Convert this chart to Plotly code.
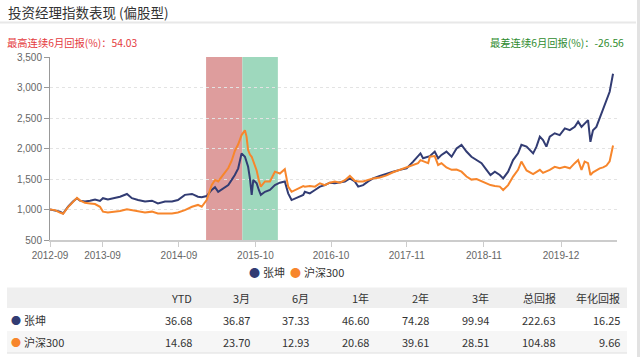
import plotly.graph_objects as go

# ---------------- data ----------------
dates = [
    "2012-09-28", "2012-10-23", "2012-11-17", "2012-12-03", "2012-12-28", "2013-01-22", "2013-02-11",
    "2013-02-26", "2013-03-23", "2013-04-18", "2013-05-13", "2013-06-07", "2013-06-22", "2013-07-17",
    "2013-08-22", "2013-09-16", "2013-10-21", "2013-11-15", "2013-12-16", "2014-01-20", "2014-02-24",
    "2014-03-26", "2014-05-01", "2014-06-05", "2014-07-05", "2014-08-09", "2014-09-14", "2014-10-14",
    "2014-11-02", "2014-11-27", "2014-12-22", "2015-01-08", "2015-01-24", "2015-02-18", "2015-03-16",
    "2015-04-02", "2015-04-18", "2015-05-05", "2015-05-22", "2015-06-08", "2015-06-16", "2015-06-24",
    "2015-07-03", "2015-07-12", "2015-07-20", "2015-08-06", "2015-08-17", "2015-08-27", "2015-09-17",
    "2015-10-12", "2015-11-06", "2015-12-01", "2015-12-26", "2016-01-12", "2016-01-29", "2016-03-02",
    "2016-03-28", "2016-04-05", "2016-04-30", "2016-05-26", "2016-06-20", "2016-07-15", "2016-08-09",
    "2016-09-03", "2016-09-29", "2016-10-24", "2016-11-18", "2016-12-13", "2016-12-30", "2017-01-24",
    "2017-02-18", "2017-03-15", "2017-04-18", "2017-05-22", "2017-06-24", "2017-07-28", "2017-08-31",
    "2017-10-03", "2017-10-28", "2017-11-09", "2017-11-22", "2017-12-18", "2017-12-26", "2018-01-20",
    "2018-02-06", "2018-02-23", "2018-03-20", "2018-04-15", "2018-05-10", "2018-06-04", "2018-06-29",
    "2018-07-24", "2018-08-19", "2018-09-13", "2018-10-08", "2018-10-28", "2018-11-19", "2018-12-14",
    "2018-12-31", "2019-01-25", "2019-02-19", "2019-03-16", "2019-04-02", "2019-04-28", "2019-05-31",
    "2019-06-17", "2019-07-04", "2019-07-20", "2019-08-06", "2019-08-23", "2019-09-17", "2019-10-12",
    "2019-11-07", "2019-12-02", "2019-12-27", "2020-01-13", "2020-01-30", "2020-02-15", "2020-03-03",
    "2020-03-15", "2020-03-28", "2020-04-14", "2020-05-01", "2020-05-18", "2020-06-04", "2020-06-20",
    "2020-07-07",
]
zhangkun = [
    1000, 980, 965, 935, 1045, 1130, 1185,
    1145, 1130, 1145, 1165, 1140, 1185, 1165,
    1185, 1210, 1255, 1185, 1155, 1130, 1145,
    1100, 1130, 1130, 1155, 1240, 1255, 1210,
    1200, 1220, 1320, 1365, 1290, 1345, 1400,
    1485, 1565, 1675, 1920, 1865, 1785, 1700,
    1510, 1240, 1485, 1430, 1320, 1240, 1290,
    1320, 1400, 1440, 1460, 1265, 1155, 1200,
    1240, 1290, 1265, 1320, 1375, 1400, 1440,
    1430, 1440, 1460, 1510, 1460, 1375, 1400,
    1460, 1510, 1550, 1590, 1620, 1650, 1675,
    1785, 1865, 1920, 1840, 1865, 1875, 1950,
    1840, 1895, 1950, 1865, 2000, 2060, 1950,
    1865, 1810, 1760, 1650, 1565, 1620, 1565,
    1510, 1620, 1810, 1920, 2060, 2030, 1920,
    2030, 2195, 2140, 2030, 2195, 2250, 2220,
    2330, 2300, 2355, 2440, 2355, 2410, 2465,
    2110, 2300, 2355, 2495, 2630, 2795, 2930,
    3226,
]
hs300 = [
    1000, 990, 950, 930, 1040, 1120, 1190,
    1150, 1110, 1100, 1090, 1045, 965, 950,
    965, 975, 1005, 990, 965, 950, 965,
    935, 935, 935, 950, 990, 1045, 1075,
    1045, 1155, 1400, 1485, 1460, 1565, 1680,
    1800, 1960, 2070, 2220, 2300, 2195, 1975,
    1900, 1865, 1800, 1640, 1480, 1375, 1460,
    1460, 1620, 1590, 1660, 1375, 1290, 1345,
    1385, 1375, 1385, 1375, 1430, 1400, 1440,
    1460, 1440, 1480, 1550, 1470, 1460, 1460,
    1490, 1510, 1525, 1560, 1610, 1650, 1690,
    1720, 1760, 1810, 1790, 1760, 1865, 1875,
    1730, 1760, 1690, 1650, 1655, 1620, 1540,
    1490, 1500, 1460, 1430, 1400, 1385, 1375,
    1320, 1400, 1540, 1650, 1785, 1640, 1580,
    1610, 1650, 1600, 1620, 1650, 1700, 1675,
    1700, 1675, 1760, 1810, 1650, 1785, 1760,
    1565, 1610, 1640, 1675, 1690, 1720, 1790,
    2049,
]
tick_dates = ["2012-09-28", "2013-06-20", "2014-07-10", "2015-07-31",
              "2016-08-15", "2017-09-01", "2018-09-25", "2019-10-19"]
tick_labels = ["2012-09", "2013-09", "2014-09", "2015-10", "2016-10", "2017-11", "2018-11", "2019-12"]
best_period = ["2014-11-24", "2015-05-26"]
worst_period = ["2015-05-26", "2015-11-21"]
best_6m = 54.03
worst_6m = -26.56
series_names = ["张坤", "沪深300"]
table_cols = ["YTD", "3月", "6月", "1年", "2年", "3年", "总回报", "年化回报"]
zk_returns = [36.68, 36.87, 37.33, 46.60, 74.28, 99.94, 222.63, 16.25]
hs_returns = [14.68, 23.70, 12.93, 20.68, 39.61, 28.51, 104.88, 9.66]

# ---------------- styling ----------------
W, H = 640, 357
ML, MR, MT, MB = 50, 23, 57, 117
PW, PH = W - ML - MR, H - MT - MB
BLUE = "#323c73"
ORANGE = "#f7862c"
FONT = "Noto Sans CJK SC, Liberation Sans, Arial, sans-serif"


def px(x):
    return (x - ML) / PW


def py(y):
    return (H - MB - y) / PH


fig = go.Figure()
fig.add_trace(go.Scatter(x=dates, y=zhangkun, mode="lines", name=series_names[0],
                         line=dict(color=BLUE, width=2), showlegend=False))
fig.add_trace(go.Scatter(x=dates, y=hs300, mode="lines", name=series_names[1],
                         line=dict(color=ORANGE, width=2), showlegend=False))

shapes = []
shapes.append(dict(type="rect", xref="x", yref="paper", x0=best_period[0], x1=best_period[1],
                   y0=0, y1=1, fillcolor="#de9d9d", line=dict(width=0), layer="below"))
shapes.append(dict(type="rect", xref="x", yref="paper", x0=worst_period[0], x1=worst_period[1],
                   y0=0, y1=1, fillcolor="#9ed8bd", line=dict(width=0), layer="below"))
# header separator
shapes.append(dict(type="line", xref="paper", yref="paper", x0=px(0), x1=px(636), y0=py(22.5), y1=py(22.5),
                   line=dict(color="#e8e8e8", width=2)))
# right border strip
shapes.append(dict(type="rect", xref="paper", yref="paper", x0=px(637), x1=px(640), y0=py(0), y1=py(357),
                   fillcolor="#e2e2e2", line=dict(width=0)))
# table backgrounds
shapes.append(dict(type="rect", xref="paper", yref="paper", x0=px(7), x1=px(627), y0=py(287.5), y1=py(308),
                   fillcolor="#efefef", line=dict(width=0)))
shapes.append(dict(type="rect", xref="paper", yref="paper", x0=px(7), x1=px(627), y0=py(331), y1=py(352.5),
                   fillcolor="#f6f6f6", line=dict(width=0)))
shapes.append(dict(type="line", xref="paper", yref="paper", x0=px(7), x1=px(627), y0=py(353), y1=py(353),
                   line=dict(color="#dddddd", width=1)))

ann = []
ann.append(dict(text="投资经理指数表现 (偏股型)", x=px(6), y=py(12), xref="paper", yref="paper",
                xanchor="left", yanchor="middle", showarrow=False,
                font=dict(size=13.5, color="#333333", family=FONT)))
ann.append(dict(text=f"最高连续6月回报(%)：{best_6m:.2f}", x=px(5), y=py(43), xref="paper", yref="paper",
                xanchor="left", yanchor="middle", showarrow=False,
                font=dict(size=10.3, color="#e4393c", family=FONT)))
ann.append(dict(text=f"最差连续6月回报(%)：{worst_6m:.2f}", x=px(626), y=py(43), xref="paper", yref="paper",
                xanchor="right", yanchor="middle", showarrow=False,
                font=dict(size=10.3, color="#2e8b2e", family=FONT)))
# legend
ann.append(dict(text="●", x=px(254), y=py(272), xref="paper", yref="paper", xanchor="center",
                yanchor="middle", showarrow=False, font=dict(size=11, color=BLUE, family=FONT)))
ann.append(dict(text=series_names[0], x=px(261), y=py(272), xref="paper", yref="paper", xanchor="left",
                yanchor="middle", showarrow=False, font=dict(size=11, color="#333333", family=FONT)))
ann.append(dict(text="●", x=px(295), y=py(272), xref="paper", yref="paper", xanchor="center",
                yanchor="middle", showarrow=False, font=dict(size=11, color=ORANGE, family=FONT)))
ann.append(dict(text=series_names[1], x=px(302), y=py(272), xref="paper", yref="paper", xanchor="left",
                yanchor="middle", showarrow=False, font=dict(size=11, color="#333333", family=FONT)))

# table
col_right = [194, 252, 311, 371, 431, 491, 558, 622]
row_y = [298, 320, 342]
for c, xr in zip(table_cols, col_right):
    ann.append(dict(text=c, x=px(xr), y=py(row_y[0]), xref="paper", yref="paper", xanchor="right",
                    yanchor="middle", showarrow=False, font=dict(size=11, color="#333333", family=FONT)))
for name, color, vals, yy in [(series_names[0], BLUE, zk_returns, row_y[1]),
                              (series_names[1], ORANGE, hs_returns, row_y[2])]:
    ann.append(dict(text="●", x=px(16), y=py(yy), xref="paper", yref="paper", xanchor="center",
                    yanchor="middle", showarrow=False, font=dict(size=10, color=color, family=FONT)))
    ann.append(dict(text=name, x=px(22), y=py(yy), xref="paper", yref="paper", xanchor="left",
                    yanchor="middle", showarrow=False, font=dict(size=11, color="#333333", family=FONT)))
    for v, xr in zip(vals, col_right):
        ann.append(dict(text=f"{v:.2f}", x=px(xr), y=py(yy), xref="paper", yref="paper", xanchor="right",
                        yanchor="middle", showarrow=False, font=dict(size=11, color="#333333", family=FONT)))

fig.update_layout(
    width=W, height=H, margin=dict(l=ML, r=MR, t=MT, b=MB, pad=0),
    paper_bgcolor="white", plot_bgcolor="white",
    font=dict(family=FONT, color="#666666", size=10),
    shapes=shapes, annotations=ann, showlegend=False,
    xaxis=dict(type="date", range=["2012-09-28", "2020-07-27"], tickvals=tick_dates, ticktext=tick_labels,
               showline=True, linecolor="#cccccc", linewidth=2, ticks="outside", ticklen=5,
               tickcolor="#cccccc", showgrid=False, zeroline=False,
               tickfont=dict(size=10, color="#666666", family="Liberation Sans, Arial")),
    yaxis=dict(range=[500, 3500], dtick=500, tickformat=",", showline=True, linecolor="#999999",
               linewidth=1, ticks="outside", ticklen=5, tickcolor="#999999",
               gridcolor="#e3e3e3", griddash="dot", zeroline=False,
               tickfont=dict(size=10, color="#666666", family="Liberation Sans, Arial")),
)

fig.write_html("out.html", config={"displayModeBar": False},
               post_script="document.body.style.margin='0px';")
